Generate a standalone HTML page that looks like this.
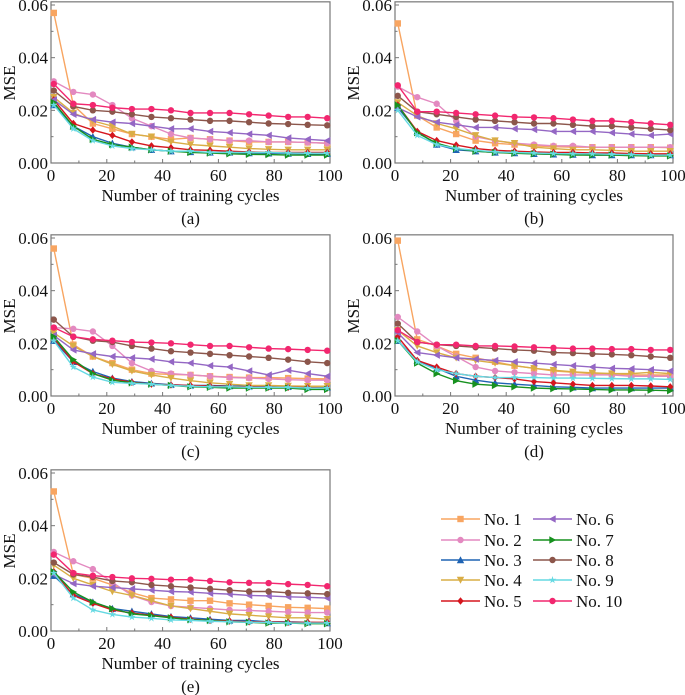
<!DOCTYPE html>
<html><head><meta charset="utf-8"><style>
html,body{margin:0;padding:0;background:#fff;}
svg{display:block;}
svg text{font-family:"Liberation Serif","DejaVu Serif",serif !important;}
</style></head><body>
<svg id="chart" width="685" height="695" viewBox="0 0 685 695"></svg>
<script>
const xs=[1,8,15,22,29,36,43,50,57,64,71,78,85,92,99];
const seriesNames=["No. 1","No. 2","No. 3","No. 4","No. 5","No. 6","No. 7","No. 8","No. 9","No. 10"];
const xTicks=[0,20,40,60,80,100];
const yTicks=[0,0.02,0.04,0.06];
const yTickLabels=["0.00","0.02","0.04","0.06"];
const panelLabels=["(a)","(b)","(c)","(d)","(e)"];
const panelA=[
[0.057,0.022,0.015,0.013,0.011,0.010,0.009,0.0095,0.009,0.0085,0.008,0.008,0.008,0.0078,0.0075],
[0.031,0.027,0.026,0.022,0.017,0.014,0.011,0.0095,0.009,0.0085,0.0085,0.008,0.008,0.0078,0.0075],
[0.022,0.014,0.010,0.0075,0.006,0.005,0.0045,0.0042,0.004,0.004,0.0038,0.0037,0.0036,0.0035,0.0035],
[0.025,0.019,0.016,0.014,0.011,0.010,0.008,0.007,0.0065,0.006,0.0055,0.0052,0.005,0.005,0.005],
[0.024,0.015,0.0125,0.0105,0.008,0.0065,0.0058,0.005,0.0048,0.0045,0.0042,0.004,0.004,0.004,0.004],
[0.024,0.0185,0.0165,0.0155,0.015,0.014,0.013,0.013,0.012,0.0115,0.011,0.0105,0.0095,0.009,0.0085],
[0.023,0.014,0.009,0.007,0.006,0.005,0.0045,0.004,0.0038,0.0035,0.0033,0.0032,0.003,0.003,0.003],
[0.0275,0.0215,0.020,0.0195,0.0185,0.0175,0.017,0.0165,0.016,0.016,0.0155,0.015,0.0148,0.0145,0.0143],
[0.022,0.013,0.0085,0.0065,0.0055,0.005,0.0045,0.0045,0.004,0.004,0.004,0.004,0.0038,0.0037,0.0037],
[0.030,0.0225,0.022,0.021,0.0205,0.0205,0.020,0.019,0.019,0.019,0.0185,0.018,0.0175,0.0175,0.017]];
const panelB=[
[0.053,0.018,0.0135,0.011,0.0085,0.0075,0.007,0.0065,0.0062,0.006,0.006,0.006,0.006,0.006,0.0058],
[0.029,0.025,0.0225,0.016,0.010,0.0085,0.0075,0.007,0.0065,0.0065,0.006,0.006,0.006,0.006,0.006],
[0.021,0.012,0.007,0.005,0.0045,0.004,0.0038,0.0035,0.0033,0.0032,0.003,0.003,0.003,0.003,0.003],
[0.023,0.018,0.015,0.013,0.0105,0.0085,0.0075,0.006,0.0055,0.005,0.005,0.0048,0.0045,0.0045,0.0045],
[0.022,0.012,0.0085,0.0068,0.0055,0.0048,0.0045,0.0042,0.004,0.004,0.0038,0.0038,0.0036,0.0035,0.0035],
[0.021,0.0175,0.0155,0.0145,0.0135,0.0135,0.013,0.0127,0.012,0.012,0.012,0.0115,0.011,0.0105,0.011],
[0.022,0.0115,0.0075,0.0055,0.0045,0.004,0.0037,0.0035,0.0033,0.003,0.003,0.003,0.0028,0.0027,0.0027],
[0.0255,0.0195,0.0185,0.0175,0.0165,0.016,0.0155,0.015,0.015,0.0145,0.014,0.014,0.0135,0.013,0.0125],
[0.020,0.0105,0.007,0.0055,0.0048,0.0042,0.004,0.0038,0.0036,0.0035,0.0035,0.0033,0.0032,0.003,0.003],
[0.0295,0.0195,0.0195,0.019,0.0185,0.018,0.0175,0.0173,0.017,0.0165,0.016,0.016,0.0155,0.015,0.0145]];
const panelC=[
[0.056,0.0195,0.015,0.0125,0.010,0.0085,0.0082,0.008,0.0075,0.0072,0.007,0.007,0.0068,0.0066,0.0065],
[0.026,0.0255,0.0245,0.019,0.0125,0.0095,0.0085,0.008,0.0075,0.007,0.0068,0.0065,0.0062,0.006,0.006],
[0.021,0.013,0.0093,0.0068,0.0055,0.0048,0.0043,0.004,0.004,0.0038,0.0037,0.0035,0.0035,0.0033,0.0033],
[0.024,0.019,0.015,0.012,0.0095,0.008,0.0068,0.0058,0.005,0.0045,0.004,0.004,0.0038,0.0037,0.0037],
[0.022,0.013,0.0085,0.0065,0.0052,0.0045,0.0042,0.004,0.0038,0.0036,0.0035,0.0034,0.0033,0.0032,0.003],
[0.023,0.0175,0.016,0.015,0.0145,0.014,0.013,0.0125,0.0115,0.011,0.0095,0.008,0.0098,0.0085,0.0075],
[0.0225,0.0138,0.0085,0.006,0.005,0.0045,0.004,0.0035,0.0033,0.003,0.003,0.003,0.003,0.0025,0.0025],
[0.029,0.0225,0.021,0.0205,0.019,0.018,0.017,0.0165,0.016,0.0155,0.015,0.0145,0.0138,0.013,0.0125],
[0.021,0.011,0.0072,0.0052,0.0048,0.0045,0.004,0.0037,0.0035,0.0035,0.0033,0.0033,0.0033,0.003,0.003],
[0.026,0.0225,0.0215,0.021,0.0205,0.0203,0.020,0.0195,0.019,0.019,0.0185,0.018,0.0178,0.0175,0.0172]];
const panelD=[
[0.059,0.0215,0.019,0.016,0.0145,0.013,0.0115,0.0105,0.0095,0.009,0.0085,0.0085,0.008,0.008,0.008],
[0.030,0.0245,0.019,0.015,0.011,0.0095,0.009,0.0085,0.008,0.008,0.008,0.008,0.0075,0.0075,0.0075],
[0.021,0.0135,0.0105,0.0075,0.006,0.005,0.0045,0.004,0.0035,0.0033,0.003,0.003,0.003,0.003,0.003],
[0.025,0.019,0.0165,0.0145,0.0135,0.0125,0.0115,0.0105,0.0098,0.0092,0.0088,0.0085,0.0085,0.009,0.0085],
[0.0225,0.0135,0.011,0.0085,0.0075,0.007,0.0065,0.0055,0.005,0.0045,0.004,0.004,0.004,0.0038,0.0035],
[0.024,0.0165,0.0155,0.0145,0.014,0.0135,0.013,0.0125,0.012,0.0115,0.011,0.0105,0.0103,0.010,0.0095],
[0.021,0.0125,0.0085,0.0058,0.0045,0.004,0.0035,0.003,0.0028,0.0027,0.0025,0.0023,0.0023,0.0022,0.002],
[0.0275,0.0205,0.0195,0.019,0.0185,0.018,0.0175,0.0172,0.0165,0.0163,0.016,0.0158,0.0155,0.015,0.0145],
[0.021,0.013,0.010,0.0085,0.0075,0.007,0.007,0.007,0.0068,0.0068,0.0067,0.0066,0.0065,0.0065,0.0063],
[0.025,0.0205,0.0195,0.0195,0.019,0.019,0.0188,0.0185,0.0183,0.018,0.018,0.0178,0.0178,0.0175,0.0175]];
const panelE=[
[0.053,0.0215,0.020,0.0175,0.0145,0.0125,0.012,0.0115,0.0115,0.0105,0.010,0.0095,0.009,0.0088,0.0085],
[0.030,0.0265,0.0235,0.0185,0.0135,0.011,0.0095,0.009,0.0085,0.008,0.0078,0.0075,0.0072,0.007,0.007],
[0.021,0.014,0.011,0.0085,0.0075,0.0065,0.0055,0.005,0.0045,0.004,0.004,0.0035,0.0035,0.0033,0.003],
[0.025,0.020,0.0175,0.015,0.0135,0.0115,0.0095,0.0085,0.0075,0.0065,0.006,0.0055,0.005,0.005,0.0045],
[0.0225,0.0135,0.0105,0.008,0.0068,0.006,0.0052,0.0045,0.004,0.0038,0.0035,0.0035,0.0033,0.0033,0.0033],
[0.0215,0.018,0.017,0.0165,0.016,0.0155,0.015,0.0148,0.0143,0.014,0.0135,0.0133,0.013,0.0128,0.0125],
[0.0225,0.0148,0.011,0.0085,0.0065,0.0058,0.005,0.0043,0.004,0.0035,0.0033,0.003,0.003,0.0028,0.0028],
[0.026,0.0215,0.0205,0.019,0.0185,0.0175,0.017,0.0165,0.016,0.0155,0.015,0.015,0.0145,0.0143,0.014],
[0.022,0.0125,0.008,0.0063,0.0053,0.0048,0.0042,0.004,0.0037,0.0035,0.0033,0.0033,0.003,0.003,0.003],
[0.029,0.022,0.021,0.0205,0.020,0.0198,0.0195,0.0195,0.019,0.0185,0.0183,0.0182,0.0178,0.0175,0.017]];
const allPanels=[panelA,panelB,panelC,panelD,panelE];

const colors=["#f8a561","#e389c0","#1f63b3","#d9ad45","#d5161e","#9467c4","#17911f","#8c564b","#65d9e2","#f2276f"];
const markers=["square","circle","up","down","diamond","left","right","circle","star","circle"];
const layout=[{x0:51,x1:330,y0:163},{x0:395,x1:673,y0:163},{x0:51,x1:330,y0:396},{x0:395,x1:673,y0:396},{x0:51,x1:330,y0:631}];
const NS="http://www.w3.org/2000/svg";
const FONT='"Liberation Serif", "DejaVu Serif", serif';
const svg=document.getElementById("chart");
function mk(tag,attrs,parent){const e=document.createElementNS(NS,tag);for(const k in attrs)e.setAttribute(k,attrs[k]);if(tag==="text")e.setAttribute("font-family",FONT);(parent||svg).appendChild(e);return e;}
const YMAX=0.0612,PXPER=158/0.06;
function marker(g,type,x,y,c){
  const s=3.2;let e;
  if(type==="square")e=mk("rect",{x:x-s,y:y-s,width:2*s,height:2*s,fill:c},g);
  else if(type==="circle")e=mk("circle",{cx:x,cy:y,r:s,fill:c},g);
  else{
    let pts;
    if(type==="up")pts=[[0,-s-0.5],[s+0.5,s],[-s-0.5,s]];
    else if(type==="down")pts=[[0,s+0.5],[s+0.5,-s],[-s-0.5,-s]];
    else if(type==="left")pts=[[-s-0.5,0],[s,-s-0.5],[s,s+0.5]];
    else if(type==="right")pts=[[s+0.5,0],[-s,-s-0.5],[-s,s+0.5]];
    else if(type==="diamond")pts=[[0,-s-0.5],[s,0],[0,s+0.5],[-s,0]];
    else{pts=[];for(let i=0;i<10;i++){const r=i%2?s*0.45:s+0.8,a=-Math.PI/2+i*Math.PI/5;pts.push([r*Math.cos(a),r*Math.sin(a)]);}}
    e=mk("polygon",{points:pts.map(p=>(x+p[0])+","+(y+p[1])).join(" "),fill:c},g);
  }
  
  
}
allPanels.forEach((data,pi)=>{
  const L=layout[pi];
  const sx=v=>L.x0+(v/100)*(L.x1-L.x0);
  const sy=v=>L.y0-v*PXPER;
  const g=mk("g",{});
  
  
  const top=sy(YMAX);
  const frame=mk("rect",{x:L.x0,y:top,width:L.x1-L.x0,height:L.y0-top,fill:"none",stroke:"#777","stroke-width":1.2},g);
  
  
  for(let v=0;v<=100;v+=10){const len=v%20===0?4:2.5;mk("line",{x1:sx(v),x2:sx(v),y1:L.y0,y2:L.y0-len,stroke:"#777","stroke-width":1},g);}
  for(let v=0;v<=0.06001;v+=0.01){const len=Math.round(v*100)%2===0?4:2.5;mk("line",{x1:L.x0,x2:L.x0+len,y1:sy(v),y2:sy(v),stroke:"#777","stroke-width":1},g);}
  xTicks.forEach(v=>{const t=mk("text",{x:sx(v),y:L.y0+18,"text-anchor":"middle","font-size":17,fill:"#111"},g);t.textContent=v;
    
    });
  yTicks.forEach((v,i)=>{const t=mk("text",{x:L.x0-3,y:sy(v)+6,"text-anchor":"end","font-size":17,fill:"#111"},g);t.textContent=yTickLabels[i];
    
    });
  const cx=(L.x0+L.x1)/2;
  const xt=mk("text",{x:cx,y:L.y0+38,"text-anchor":"middle","font-size":17,fill:"#111"},g);xt.textContent="Number of training cycles";
  
  
  const pl=mk("text",{x:cx,y:L.y0+61,"text-anchor":"middle","font-size":17,fill:"#111"},g);pl.textContent=panelLabels[pi];
  
  
  const yy=L.y0-80,yx=L.x0-36;
  const yt=mk("text",{x:yx,y:yy,"text-anchor":"middle","font-size":17,fill:"#111",transform:"rotate(-90 "+yx+" "+yy+")"},g);yt.textContent="MSE";
  
  
  data.forEach((vals,si)=>{
    const sg=mk("g",{},g);
    
    
    const pts=vals.map((v,i)=>sx(xs[i])+","+sy(v)).join(" ");
    const pl2=mk("polyline",{points:pts,fill:"none",stroke:colors[si],"stroke-width":1.4,"stroke-linejoin":"round"},sg);
    
    
    vals.forEach((v,i)=>marker(sg,markers[si],sx(xs[i]),sy(v),colors[si]));
  });
});
const lg=mk("g",{});


const rowsY=[519,540,560,580,601];
seriesNames.forEach((n,i)=>{
  const col=i<5?0:1,row=i%5;
  const lx=col?533:441,y=rowsY[row];
  const eg=mk("g",{},lg);
  
  
  mk("line",{x1:lx,x2:lx+39,y1:y,y2:y,stroke:colors[i],"stroke-width":1.6},eg);
  marker(eg,markers[i],lx+19.5,y,colors[i]);
  const t=mk("text",{x:lx+43,y:y+6,"font-size":17,fill:"#111"},eg);t.textContent=n;
});
</script>
</body></html>
